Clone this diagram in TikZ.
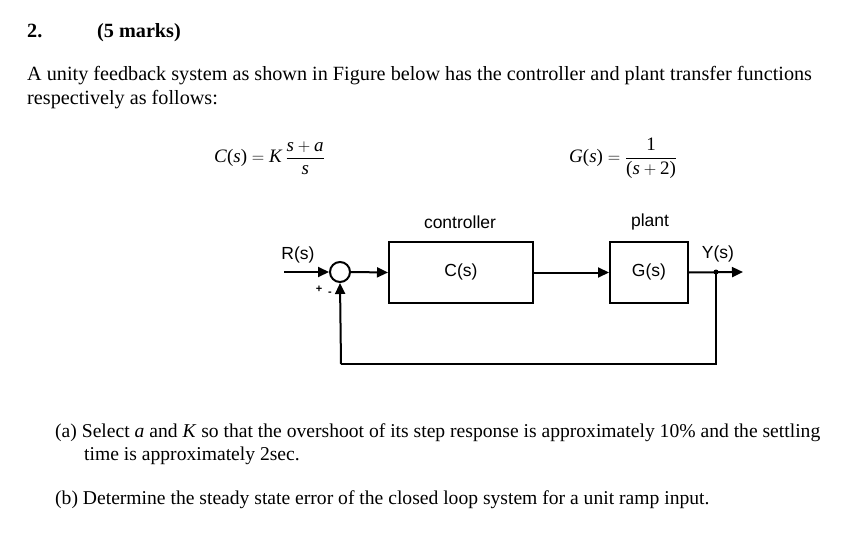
\documentclass[tikz,border=0pt]{standalone}
\usepackage{amsmath}
\usepackage{fontspec}
\setmainfont{Liberation Serif}
\newfontfamily\arial{Liberation Sans}
\usetikzlibrary{arrows.meta}
\newcommand{\tx}[1]{\text{#1}}
\begin{document}
\begin{tikzpicture}[x=1pt,y=-1pt,
  txt/.style={anchor=base west,inner sep=0pt,font=\fontsize{20.2}{24}\selectfont},
  txs/.style={anchor=base west,inner sep=0pt,font=\fontsize{19.6}{24}\selectfont},
  eq/.style={anchor=west,inner sep=0pt,font=\fontsize{19}{23}\selectfont},
  lbl/.style={inner sep=0pt,font=\arial\fontsize{17.5}{20}\selectfont},
  blk/.style={draw,line width=2pt,inner sep=0pt},
  sig/.style={line width=2pt,-{Triangle[length=11pt,width=10pt]}},
  ln/.style={line width=2pt}]
\useasboundingbox (0,0) rectangle (849,535);
\node[txt] (n2) at (27,38) {\textbf{2.}};
\node[txt] (mk) at (97,38) {\textbf{(5 marks)}};
\node[txt] (p1) at (27,81) {A unity feedback system as shown in Figure below has the controller and plant transfer functions};
\node[txt] (p2) at (27,104) {respectively as follows:};
\node[eq] (ce) at (214,158) {$\tx{\textit{C}(\textit{s})}=\tx{\textit{K}}\,\dfrac{\tx{\textit{s}}+\tx{\textit{a}}}{\tx{\textit{s}}}$};
\node[eq] (ge) at (569,158) {$\tx{\textit{G}(\textit{s})}=\dfrac{\tx{1}}{\tx{(\textit{s}}+\tx{2)}}$};
% diagram
\node[draw,circle,line width=2pt,minimum size=20pt,inner sep=0pt] (sum) at (340,272) {};
\node[blk,minimum width=144pt,minimum height=61pt] (C) at (461,272.5) {};
\node[lbl] (Ct) at (461,272) {C(s)};
\node[blk,minimum width=78pt,minimum height=61pt] (G) at (649,272.5) {};
\node[lbl] (Gt) at (649,272) {G(s)};
\node[lbl] (ctl) at (460,222) {controller};
\node[lbl] (pl) at (650,222) {plant};
\node[lbl] (R) at (298,255) {R(s)};
\node[lbl] (Y) at (718,254) {Y(s)};
\node[inner sep=0pt,font=\arial\bfseries\fontsize{11}{12}\selectfont] (pl1) at (319,289) {+};
\node[inner sep=0pt,font=\arial\bfseries\fontsize{11}{12}\selectfont] (mi1) at (330,294) {-};
\coordinate (in) at (284,272);
\coordinate (out) at (743,272);
\coordinate (br) at (716,272);
\coordinate (bb) at (716,364);
\coordinate (lb) at (341,364);
\draw[sig] (in) -- (sum.west);
\draw[sig] (sum.east) -- (C.west);
\draw[sig] (C.east) -- (G.west);
\draw[sig] (G.east) -- (out);
\fill (br) circle (2.5pt);
\draw[ln] (br) -- (bb) -- (lb);
\draw[sig] (lb) -- (sum.south);
\node[txs] (qa1) at (55,437) {(a) Select \textit{a} and \textit{K} so that the overshoot of its step response is approximately 10\% and the settling};
\node[txs] (qa2) at (84,460) {time is approximately 2sec.};
\node[txs] (qb) at (55,504) {(b) Determine the steady state error of the closed loop system for a unit ramp input.};
\end{tikzpicture}
\end{document}
